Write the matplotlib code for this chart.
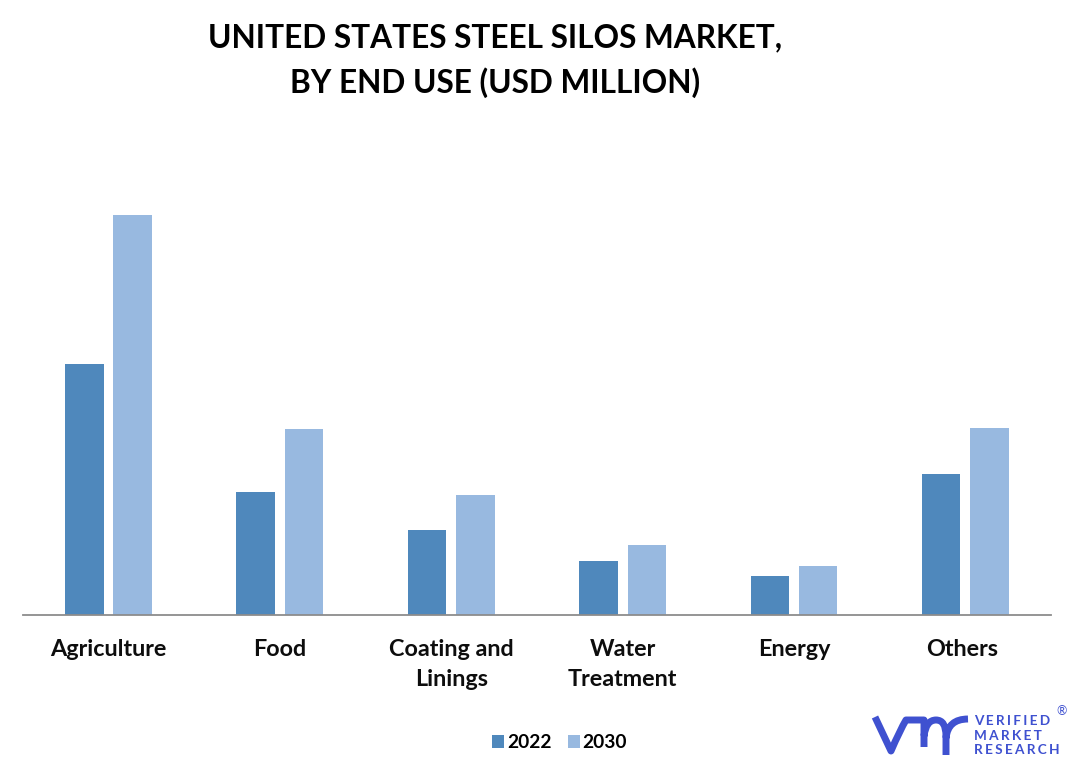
import matplotlib.pyplot as plt
from matplotlib.path import Path
from matplotlib.patches import PathPatch
from matplotlib.transforms import ScaledTranslation
import numpy as np

plt.rcParams["font.family"] = ["Lato", "DejaVu Sans"]
plt.rcParams["font.weight"] = "bold"

W, H = 1075, 773

categories = ["Agriculture", "Food", "Coating and\nLinings", "Water\nTreatment", "Energy", "Others"]
values_2022 = [251, 123, 85, 54, 39, 141]
values_2030 = [400, 186, 120, 70, 49, 187]

BLUE_DARK = "#4f88bc"
BLUE_LIGHT = "#98b9e0"
LOGO = "#3f51d0"

fig = plt.figure(figsize=(W / 100, H / 100), dpi=100)
ax = fig.add_axes([22.8 / W, 1 - 615 / H, (1051 - 22.8) / W, 400.5 / H])

x = np.arange(len(categories))
bar_w = 38.5 / 171.4
off = 24.2 / 171.4
ax.bar(x - off, values_2022, bar_w, color=BLUE_DARK, label="2022")
ax.bar(x + off, values_2030, bar_w, color=BLUE_LIGHT, label="2030")

ax.set_xlim(-0.5, 5.5)
ax.set_ylim(0, 400.5)
ax.set_yticks([])
ax.set_xticks(x)
ax.set_xticklabels(categories, fontsize=16.8, color="#0d0d0d", linespacing=1.55)
ax.tick_params(axis="x", length=0, pad=17)
# "Others" sits a little left of its group in the original
last = ax.get_xticklabels()[-1]
last.set_transform(last.get_transform() + ScaledTranslation(-3 / 100, 0, fig.dpi_scale_trans))
for s in ["top", "left", "right"]:
    ax.spines[s].set_visible(False)
ax.spines["bottom"].set_color("#8c8c8c")
ax.spines["bottom"].set_linewidth(1.3)

fig.text(495 / W, 1 - 60.5 / H, "UNITED STATES STEEL SILOS MARKET,\nBY END USE (USD MILLION)",
         ha="center", va="center", fontsize=22.8, color="black", linespacing=1.57)

fig.legend(loc="center", bbox_to_anchor=(559.5 / W, 1 - 742.5 / H), ncol=2, frameon=False,
           fontsize=13.8, handlelength=0.63, handleheight=0.63, handletextpad=0.15,
           columnspacing=0.85, borderpad=0)

# logo
logo = fig.add_axes([0, 0, 1, 1], zorder=5)
logo.set_xlim(0, W)
logo.set_ylim(H, 0)
logo.axis("off")
M, L, C = Path.MOVETO, Path.LINETO, Path.CURVE3
verts = [(875, 717), (891, 751), (900, 730), (906, 720), (914, 720), (924, 720), (924, 734), (924, 747),
         (924, 736), (926, 720), (936, 720), (946, 720), (946, 736), (946, 755),
         (946, 738), (948, 719), (968, 719)]
codes = [M, L, C, C, C, C, C, L,
         M, C, C, C, C, L,
         M, C, C]
logo.add_patch(PathPatch(Path(verts, codes), fill=False, ec=LOGO, lw=5, capstyle="butt", joinstyle="round"))
for txt, yy in [("V\u2006E\u2006R\u2006I\u2006F\u2006I\u2006E\u2006D", 721),
                ("M\u2006A\u2006R\u2006K\u2006E\u2006T", 736),
                ("R\u2006E\u2006S\u2006E\u2006A\u2006R\u2006C\u2006H", 750)]:
    logo.text(974, yy, txt, fontsize=9.8, color=LOGO, va="center", ha="left")
logo.text(1062, 711, "®", fontsize=9, color=LOGO, va="center", ha="center", fontweight="normal")

fig.savefig("out.png", dpi=100)
